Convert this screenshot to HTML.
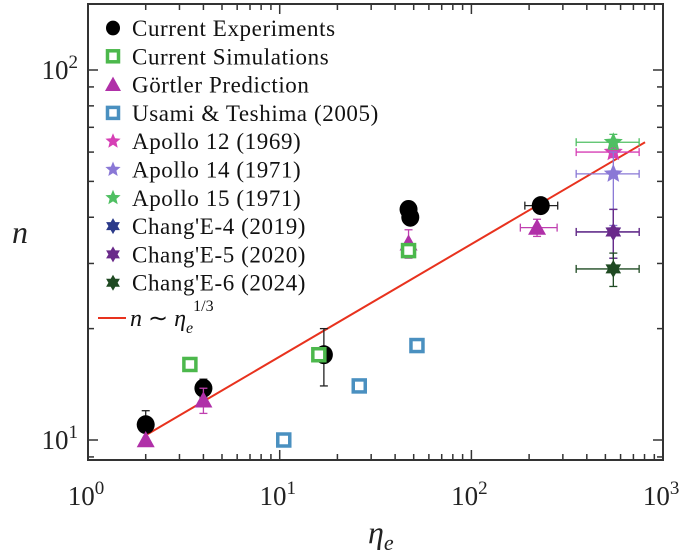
<!DOCTYPE html>
<html><head><meta charset="utf-8">
<style>
body{margin:0;background:#fff;}
svg{display:block;font-family:"Liberation Serif",serif;}
</style></head><body>
<svg id="chart" width="685" height="551" viewBox="0 0 685 551"></svg>
<script>
// ---- data ----
const expX=[2,4,17,47,48,230];
const expY=[11,13.8,17,42,40,43];
const expYErr=[1,0.8,3,0,0,0];
const expXErr=[0,0,1,0,0,40];
const simX=[3.4,16,47];
const simY=[16,17,32.5];
const gorX=[2,4,47,220];
const gorY=[10,12.8,34,37.5];
const gorYErr=[0,1,3,2];
const gorXErr=[0,0,0,50];
const usaX=[10.5,26,52];
const usaY=[10,14,18];
const starNames=["Apollo 12 (1969)","Apollo 14 (1971)","Apollo 15 (1971)","Chang'E-4 (2019)","Chang'E-5 (2020)","Chang'E-6 (2024)"];
const starX=[550,550,550,550,550,550];
const starY=[60,52.4,63.8,36.5,36.5,29];
const starYLo=[58,38,61,31,31,26];
const starYHi=[62,60,67,42,42,32];
const starXLo=[352,352,352,352,352,352];
const starXHi=[750,750,750,750,750,750];
const starColors=["#d63fb5","#8a78d6","#4fbf62","#2b3a8a","#6a2a8a","#1f4a22"];
const starShapes=[5,5,5,6,6,6];
const fitX=[2,805];
const fitY=[10.3,63.8];
const xTicks=[1,10,100,1000];
const xTickLabels=["0","1","2","3"];
const yTicks=[10,100];
const yTickLabels=["1","2"];

// ---- axes ----
const L=88,R=663,T=4,B=460;
const X=v=>L+191.7*Math.log10(v);
const Y=v=>440-370*(Math.log10(v)-1);
const svg=document.getElementById('chart');
const NS='http://www.w3.org/2000/svg';
function mk(tag,a,parent){const e=document.createElementNS(NS,tag);for(const k in a)e.setAttribute(k,a[k]);(parent||svg).appendChild(e);return e;}

const axisG=mk('g',{});


for(let d=0;d<3;d++){for(let m=1;m<=9;m++){const v=Math.pow(10,d)*m;const x=X(v);const len=m===1?10:6;
 mk('line',{x1:x,y1:B,x2:x,y2:B-len,stroke:'#333','stroke-width':1.5},axisG);
 mk('line',{x1:x,y1:T,x2:x,y2:T+len,stroke:'#333','stroke-width':1.5},axisG);}}
for(let d=0;d<3;d++){for(let m=1;m<=9;m++){const v=Math.pow(10,d)*m;if(v<8.8||v>150)continue;const y=Y(v);const len=m===1?10:6;
 mk('line',{x1:L,y1:y,x2:L+len,y2:y,stroke:'#333','stroke-width':1.5},axisG);
 mk('line',{x1:R,y1:y,x2:R-len,y2:y,stroke:'#333','stroke-width':1.5},axisG);}}
mk('rect',{x:L,y:T,width:R-L,height:B-T,fill:'none',stroke:'#333','stroke-width':2},axisG);
xTicks.forEach((v,i)=>{const t=mk('text',{x:X(v)-2,y:505,'text-anchor':'middle','font-size':27,fill:'#222'});
 
 t.innerHTML='10<tspan dy="-11" font-size="19">'+xTickLabels[i]+'</tspan>';});
yTicks.forEach((v,i)=>{const t=mk('text',{x:78,y:Y(v)+9,'text-anchor':'end','font-size':27,fill:'#222'});
 
 t.innerHTML='10<tspan dy="-11" font-size="19">'+yTickLabels[i]+'</tspan>';});
const xl=mk('text',{x:368,y:543,'font-size':32,'font-style':'italic',fill:'#222'});

xl.innerHTML='η<tspan dy="7" font-size="22">e</tspan>';
const yl=mk('text',{x:12,y:243,'font-size':32,'font-style':'italic',fill:'#222'});

yl.textContent='n';

// ---- marker helpers ----
function errV(x,y1,y2,c,g){mk('line',{x1:x,y1:y1,x2:x,y2:y2,stroke:c,'stroke-width':1.3},g);
 mk('line',{x1:x-4,y1:y1,x2:x+4,y2:y1,stroke:c,'stroke-width':1.3},g);mk('line',{x1:x-4,y1:y2,x2:x+4,y2:y2,stroke:c,'stroke-width':1.3},g);}
function errH(y,x1,x2,c,g){mk('line',{x1:x1,y1:y,x2:x2,y2:y,stroke:c,'stroke-width':1.3},g);
 mk('line',{x1:x1,y1:y-4,x2:x1,y2:y+4,stroke:c,'stroke-width':1.3},g);mk('line',{x1:x2,y1:y-4,x2:x2,y2:y+4,stroke:c,'stroke-width':1.3},g);}
function circle(x,y,g,r){return mk('ellipse',{cx:x,cy:y,rx:r||9,ry:(r||9)*1.05,fill:'#000'},g);}
function square(x,y,c,g,s){s=s||6;return mk('rect',{x:x-s,y:y-s,width:2*s,height:2*s,fill:'#fff',stroke:c,'stroke-width':3.5},g);}
function tri(x,y,g,s){s=s||9;return mk('polygon',{points:`${x},${y-s} ${x+s},${y+s*0.8} ${x-s},${y+s*0.8}`,fill:'#b030a8'},g);}
function star(x,y,n,c,g,r){r=r||9;let p=[];const ri=n===5?r*0.45:r*0.58;
 for(let i=0;i<2*n;i++){const a=-Math.PI/2+i*Math.PI/n;const rr=i%2?ri:r;p.push((x+rr*Math.cos(a)).toFixed(1)+','+(y+rr*Math.sin(a)).toFixed(1));}
 return mk('polygon',{points:p.join(' '),fill:c},g);}

const fg=mk('g',{});


mk('line',{x1:X(fitX[0]),y1:Y(fitY[0]),x2:X(fitX[1]),y2:Y(fitY[1]),stroke:'#e8321e','stroke-width':2},fg);

starX.forEach((v,i)=>{const g=mk('g',{});
 
 
 const c=starColors[i];
 errV(X(v),Y(starYLo[i]),Y(starYHi[i]),c,g);errH(Y(starY[i]),X(starXLo[i]),X(starXHi[i]),c,g);
 star(X(v),Y(starY[i]),starShapes[i],c,g,starShapes[i]===6?9:10);});

usaX.forEach((v,i)=>{const g=mk('g',{});
 
 
 square(X(v),Y(usaY[i]),'#4a90c0',g);});

expX.forEach((v,i)=>{const g=mk('g',{});
 
 
 if(expYErr[i])errV(X(v),Y(expY[i]-expYErr[i]),Y(expY[i]+expYErr[i]),'#222',g);
 if(expXErr[i])errH(Y(expY[i]),X(v-expXErr[i]),X(v+expXErr[i]*1.3),'#222',g);
 circle(X(v),Y(expY[i]),g);});

gorX.forEach((v,i)=>{const g=mk('g',{});
 
 
 if(gorYErr[i])errV(X(v),Y(gorY[i]-gorYErr[i]),Y(gorY[i]+gorYErr[i]),'#c040b0',g);
 if(gorXErr[i])errH(Y(gorY[i]),X(v-gorXErr[i]*0.8),X(v+gorXErr[i]*1.2),'#c040b0',g);
 tri(X(v),Y(gorY[i]),g);});

simX.forEach((v,i)=>{const g=mk('g',{});
 
 
 square(X(v),Y(simY[i]),'#4cb84c',g);});

// ---- legend ----
const lg=mk('g',{});


const labels=["Current Experiments","Current Simulations","Görtler Prediction","Usami & Teshima (2005)"].concat(starNames);
labels.forEach((s,i)=>{const y=28+28.3*i;const g=mk('g',{},lg);
 
 
 const mx=113;
 if(i===0)circle(mx,y,g,7);
 else if(i===1)square(mx,y,'#4cb84c',g,5.5);
 else if(i===2)tri(mx,y,g,8);
 else if(i===3)square(mx,y,'#4a90c0',g,5.5);
 else star(mx,y,starShapes[i-4],starColors[i-4],g,8);
 const t=mk('text',{x:132,y:y+8,'font-size':23,'letter-spacing':0.6,fill:'#111'},g);t.textContent=s;});
const le=mk('g',{},lg);


mk('line',{x1:98,y1:318,x2:126,y2:318,stroke:'#e8321e','stroke-width':2},le);
const lt=mk('text',{x:130,y:326,'font-size':24,fill:'#111','font-style':'italic'},le);
lt.innerHTML='n <tspan font-style="normal">∼</tspan> η<tspan dy="7" font-size="16">e</tspan><tspan dy="-22" font-size="16" font-style="normal">1/3</tspan>';
</script>
</body></html>
